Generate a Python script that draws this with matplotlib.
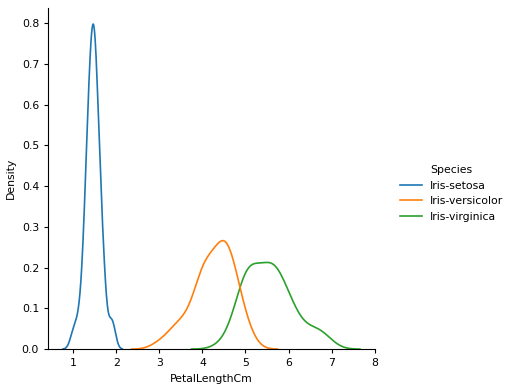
import numpy as np
import pandas as pd
import matplotlib
matplotlib.use("Agg")
import matplotlib.pyplot as plt
from matplotlib.lines import Line2D
import seaborn as sns

# petal lengths (cm) per species, iris data
setosa = [1.4, 1.4, 1.3, 1.5, 1.4, 1.7, 1.4, 1.5, 1.4, 1.5, 1.5, 1.6, 1.4, 1.1, 1.2,
          1.5, 1.3, 1.4, 1.7, 1.5, 1.7, 1.5, 1.0, 1.7, 1.9, 1.6, 1.6, 1.5, 1.4, 1.6,
          1.6, 1.5, 1.5, 1.4, 1.5, 1.2, 1.3, 1.5, 1.3, 1.5, 1.3, 1.3, 1.3, 1.6, 1.9,
          1.4, 1.6, 1.4, 1.5, 1.4]
versicolor = [4.7, 4.5, 4.9, 4.0, 4.6, 4.5, 4.7, 3.3, 4.6, 3.9, 3.5, 4.2, 4.0, 4.7, 3.6,
              4.4, 4.5, 4.1, 4.5, 3.9, 4.8, 4.0, 4.9, 4.7, 4.3, 4.4, 4.8, 5.0, 4.5, 3.5,
              3.8, 3.7, 3.9, 5.1, 4.5, 4.5, 4.7, 4.4, 4.1, 4.0, 4.4, 4.6, 4.0, 3.3, 4.2,
              4.2, 4.2, 4.3, 3.0, 4.1]
virginica = [6.0, 5.1, 5.9, 5.6, 5.8, 6.6, 4.5, 6.3, 5.8, 6.1, 5.1, 5.3, 5.5, 5.0, 5.1,
             5.3, 5.5, 6.7, 6.9, 5.0, 5.7, 4.9, 6.7, 4.9, 5.7, 6.0, 4.8, 4.9, 5.6, 5.8,
             6.1, 6.4, 5.6, 5.1, 5.6, 6.1, 5.6, 5.5, 4.8, 5.4, 5.6, 5.1, 5.1, 5.9, 5.7,
             5.2, 5.0, 5.2, 5.4, 5.1]
species = ["Iris-setosa", "Iris-versicolor", "Iris-virginica"]
colors = ["#1f77b4", "#ff7f0e", "#2ca02c"]

df = pd.DataFrame({
    "PetalLengthCm": setosa + versicolor + virginica,
    "Species": [species[0]] * len(setosa) + [species[1]] * len(versicolor)
               + [species[2]] * len(virginica),
})

plt.rcParams["font.size"] = 7.8
fig = plt.figure(figsize=(5.12, 3.91), dpi=100)
ax = fig.add_axes([0.094, 0.107, 0.638, 0.873])

sns.kdeplot(data=df, x="PetalLengthCm", hue="Species", hue_order=species,
            palette=colors, ax=ax, legend=False, linewidth=1.2)

ax.set_xticks(range(1, 9))
ax.set_yticks(np.arange(0, 0.81, 0.1))
ax.set_ylim(bottom=0)
ax.set_xlabel("PetalLengthCm")
ax.set_ylabel("Density")
ax.spines["top"].set_visible(False)
ax.spines["right"].set_visible(False)
ax.tick_params(width=0.8, length=3)

h = [Line2D([], [], color=c, linewidth=1.2) for c in colors]
fig.legend(h, species, title="Species", loc="center left", bbox_to_anchor=(0.762, 0.505),
           frameon=False, fontsize=7.8, title_fontsize=7.8)

plt.savefig("out.png", dpi=100)
